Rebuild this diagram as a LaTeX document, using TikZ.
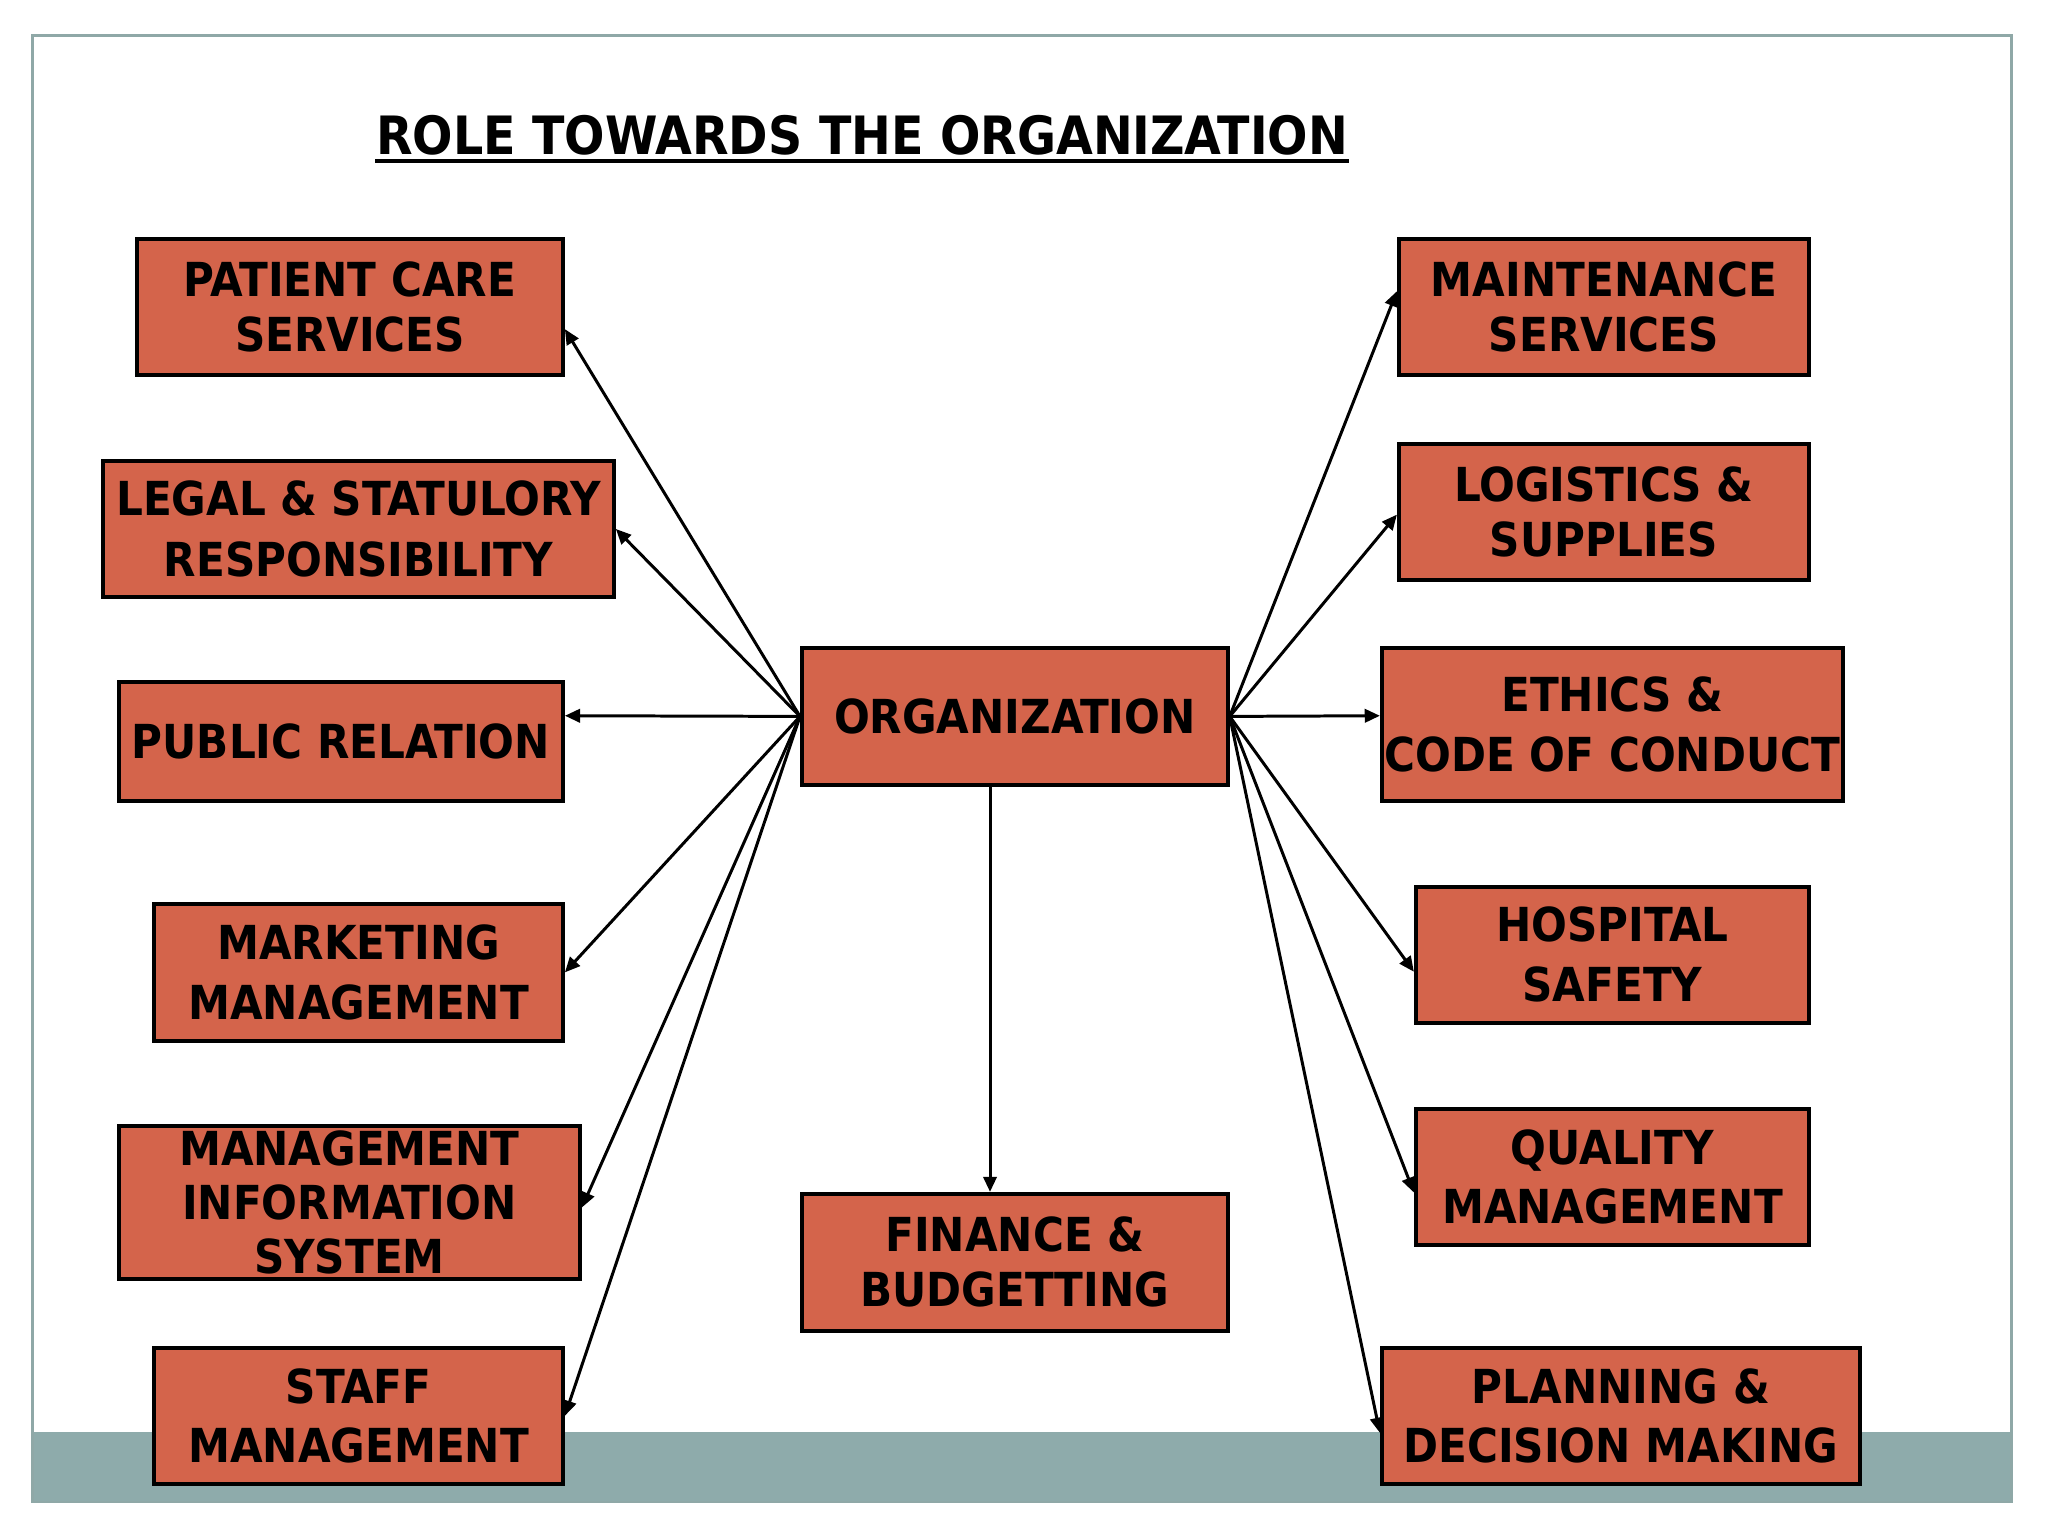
\documentclass[tikz,border=0pt]{standalone}
\usepackage{fontspec}
\setmainfont{DejaVu Sans Condensed}
\usetikzlibrary{arrows.meta}
\definecolor{boxfill}{HTML}{D4644B}
\definecolor{bandcol}{HTML}{8EABAB}
\definecolor{framecol}{HTML}{8FA8A7}
\tikzset{
  box/.style={draw=black, line width=0.8pt, fill=boxfill, inner sep=0pt,
    align=center, font=\fontsize{10.2}{12}\selectfont\bfseries},
  conn/.style={draw=black, line width=0.65pt, -{Triangle[length=3.3pt,width=2.9pt]}},
}
\begin{document}
\begin{tikzpicture}[x=0.01cm,y=-0.01cm]
\useasboundingbox (0,0) rectangle (1568,1176);
\fill[white] (0,0) rectangle (1568,1176);
% frame and band
\fill[bandcol] (25,1096) rectangle (1540,1150);
\draw[framecol, line width=0.6pt] (25,27) rectangle (1540,1150);
% title
\node[inner sep=0pt, anchor=base, font=\fontsize{11.5}{13}\selectfont\bfseries] (title) at (660,118) {ROLE TOWARDS THE ORGANIZATION};
\draw[line width=1pt] ([yshift=-1.5pt]title.base west) -- ([yshift=-1.5pt]title.base east);
% center
\node[box, minimum width=3.26cm, minimum height=1.05cm] (org) at (777,548.5) {ORGANIZATION};
\node[box, minimum width=3.26cm, minimum height=1.05cm] (fin) at (777,966.5) {FINANCE \&\\BUDGETTING};
% left
\node[box, minimum width=3.26cm, minimum height=1.04cm] (pc) at (268,235) {PATIENT CARE\\SERVICES};
\node[box, minimum width=3.91cm, minimum height=1.04cm, font=\fontsize{10.2}{13.2}\selectfont\bfseries] (legal) at (274.5,405) {LEGAL \& STATULORY\\RESPONSIBILITY};
\node[box, minimum width=3.40cm, minimum height=0.91cm, text depth=-0.05cm] (pr) at (261,567.5) {PUBLIC RELATION};
\node[box, minimum width=3.13cm, minimum height=1.05cm, font=\fontsize{10.2}{13}\selectfont\bfseries] (mkt) at (274.5,744.5) {MARKETING\\MANAGEMENT};
\node[box, minimum width=3.53cm, minimum height=1.17cm, font=\fontsize{10.2}{11.8}\selectfont\bfseries] (mis) at (267.5,920.5) {MANAGEMENT\\INFORMATION\\SYSTEM};
\node[box, minimum width=3.13cm, minimum height=1.04cm, font=\fontsize{10.2}{13}\selectfont\bfseries] (staff) at (274.5,1084) {STAFF\\MANAGEMENT};
% right
\node[box, minimum width=3.14cm, minimum height=1.04cm] (maint) at (1228,235) {MAINTENANCE\\SERVICES};
\node[box, minimum width=3.14cm, minimum height=1.04cm] (log) at (1228,392) {LOGISTICS \&\\SUPPLIES};
\node[box, minimum width=3.53cm, minimum height=1.17cm, font=\fontsize{10.2}{13}\selectfont\bfseries] (eth) at (1234.5,554.5) {ETHICS \&\\CODE OF CONDUCT};
\node[box, minimum width=3.01cm, minimum height=1.04cm, font=\fontsize{10.2}{13}\selectfont\bfseries] (hosp) at (1234.5,731) {HOSPITAL\\SAFETY};
\node[box, minimum width=3.01cm, minimum height=1.04cm, font=\fontsize{10.2}{13}\selectfont\bfseries] (qual) at (1234.5,901) {QUALITY\\MANAGEMENT};
\node[box, minimum width=3.66cm, minimum height=1.04cm, font=\fontsize{10.2}{13}\selectfont\bfseries] (plan) at (1241,1084) {PLANNING \&\\DECISION MAKING};
% connectors left
\draw[conn] (org.west) -- ([yshift=-0.17cm]pc.east);
\draw[conn] (org.west) -- (legal.east);
\draw[conn] (org.west) -- ([yshift=0.195cm]pr.east);
\draw[conn] (org.west) -- (mkt.east);
\draw[conn] (org.west) -- ([yshift=-0.04cm]mis.east);
\draw[conn] (org.west) -- (staff.east);
% connectors right
\draw[conn] (org.east) -- ([yshift=0.12cm]maint.west);
\draw[conn] (org.east) -- ([yshift=-0.02cm]log.west);
\draw[conn] (org.east) -- ([yshift=0.065cm]eth.west);
\draw[conn] (org.east) -- ([yshift=-0.13cm]hosp.west);
\draw[conn] (org.east) -- ([yshift=-0.12cm]qual.west);
\draw[conn] (org.east) -- ([yshift=-0.13cm]plan.west);
% finance
\draw[conn] ([xshift=-0.19cm]org.south) -- ([xshift=-0.19cm]fin.north);
\end{tikzpicture}
\end{document}
